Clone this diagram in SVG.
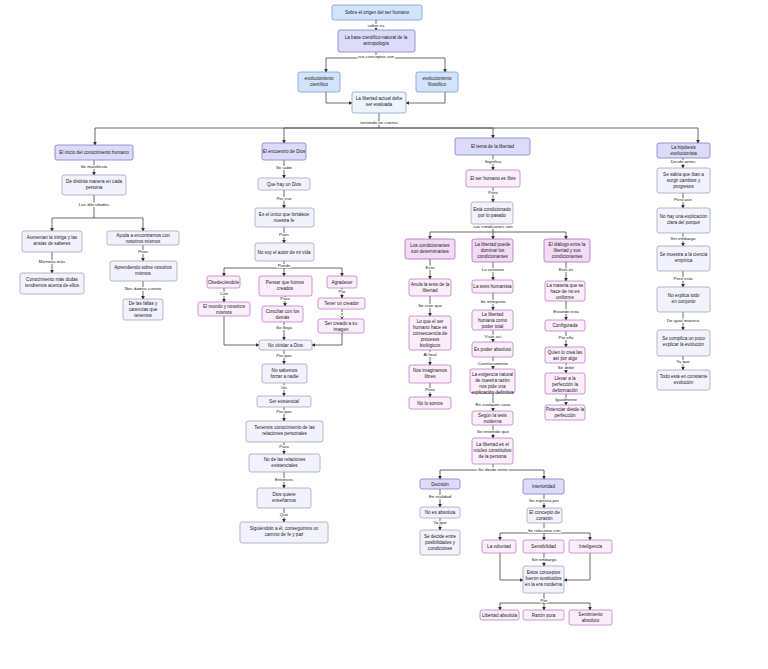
<svg xmlns="http://www.w3.org/2000/svg" width="768" height="669" viewBox="0 0 768 669">
<style>
rect{rx:2;stroke-width:0.8}
.top{fill:#d2e4fb;stroke:#7b9cc8}
.ev{fill:#eef4fd;stroke:#8ea4c4}
.main{fill:#dcdcfa;stroke:#7f7fc2}
.sub{fill:#f2f2fd;stroke:#a4a4bc}
.pk{fill:#fbeefb;stroke:#c27cc6}
.pk2{fill:#f3dbf7;stroke:#b06cc0}
text{font-family:"Liberation Sans",Arial,sans-serif;font-size:4.6px;fill:#222;text-anchor:middle}
.lb{font-size:4.4px;paint-order:stroke;stroke:#fff;stroke-width:2px}
#edges path{fill:none;stroke:#444;stroke-width:0.8;marker-end:url(#a)}
</style>
<defs><marker id="a" viewBox="0 0 6 6" refX="5" refY="3" markerWidth="5" markerHeight="5" orient="auto"><path d="M0,0L6,3L0,6z" fill="#333"/></marker></defs>
<rect width="768" height="669" fill="#fff" style="stroke:none"/>
<g id="edges">
<path d="M376,20V30"/><path d="M376,52V58H326V72"/><path d="M376,58H445V72"/>
<path d="M326,92V103H352"/><path d="M445,92V103H406"/>
<path d="M379,113V128H95V145"/><path d="M379,128H284V143"/><path d="M379,128H493V138"/><path d="M379,128H698V143"/>
<path d="M94,160V175"/><path d="M94,195V218H52V231"/><path d="M94,218H143V231"/>
<path d="M52,252V273"/><path d="M143,245V261"/><path d="M143,281V299"/>
<path d="M284,160V178"/><path d="M284,190V208"/><path d="M284,227V243"/><path d="M284,261V268H224V276"/><path d="M284,268V276"/><path d="M284,268H342V276"/>
<path d="M224,288V302"/><path d="M285,296V306"/><path d="M342,288V298"/><path d="M342,309V319"/>
<path d="M224,316V345H259"/><path d="M284,322V340"/><path d="M342,333V345H312"/>
<path d="M284,350V364"/><path d="M284,383V396"/><path d="M284,407V421"/><path d="M284,442V454"/><path d="M284,472V488"/><path d="M284,508V522"/>
<path d="M493,155V170"/><path d="M493,187V202"/><path d="M493,224V232H430V239"/><path d="M493,232V239"/><path d="M493,232H566V239"/>
<path d="M430,259V279"/><path d="M430,296V316"/><path d="M430,350V365"/><path d="M430,383V397"/>
<path d="M493,262V280"/><path d="M493,293V310"/><path d="M493,330V342"/><path d="M493,357V369"/><path d="M493,393V411"/><path d="M493,425V438"/>
<path d="M493,464V470H440V479"/><path d="M493,470H544V479"/>
<path d="M566,262V281"/><path d="M566,301V320"/><path d="M566,331V347"/><path d="M566,363V373"/><path d="M566,394V405"/>
<path d="M440,489V507"/><path d="M440,518V530"/>
<path d="M544,494V508"/><path d="M544,523V533H500V540"/><path d="M544,533V540"/><path d="M544,533H590V540"/>
<path d="M544,553V566"/><path d="M500,553V580H523"/><path d="M590,553V580H564"/>
<path d="M544,593V603H500V610"/><path d="M544,603V610"/><path d="M544,603H590V610"/>
<path d="M683,158V168"/><path d="M683,193V208"/><path d="M683,233V246"/><path d="M683,271V287"/><path d="M683,312V330"/><path d="M683,356V370"/>
</g>
<g id="labels">
<text class="lb" x="376" y="27">sobre es</text>
<text class="lb" x="376" y="58">sus conceptos son</text>
<text class="lb" x="379" y="124">teniendo en cuenta</text>
<text class="lb" x="94" y="168">Se manifiesta</text>
<text class="lb" x="94" y="206">Las dificultades</text>
<text class="lb" x="52" y="263">Mientras más</text>
<text class="lb" x="143" y="253">Pero</text>
<text class="lb" x="143" y="290">Nos damos cuenta</text>
<text class="lb" x="284" y="169">Se sabe</text>
<text class="lb" x="284" y="200">Por eso</text>
<text class="lb" x="284" y="236">Pues</text>
<text class="lb" x="284" y="267">Puede</text>
<text class="lb" x="224" y="295">Con</text>
<text class="lb" x="285" y="300">Para</text>
<text class="lb" x="342" y="293">Por</text>
<text class="lb" x="342" y="316">Y</text>
<text class="lb" x="284" y="329">Se llega</text>
<text class="lb" x="284" y="357">Por que</text>
<text class="lb" x="284" y="389">Un</text>
<text class="lb" x="284" y="413">Por que</text>
<text class="lb" x="284" y="448">Para</text>
<text class="lb" x="284" y="481">Entonces</text>
<text class="lb" x="284" y="516">Que</text>
<text class="lb" x="493" y="163">Significa</text>
<text class="lb" x="493" y="194">Pero</text>
<text class="lb" x="493" y="228">sus condiciones son</text>
<text class="lb" x="430" y="269">Esto</text>
<text class="lb" x="430" y="307">Se cree que</text>
<text class="lb" x="430" y="356">Al final</text>
<text class="lb" x="430" y="391">Pero</text>
<text class="lb" x="493" y="271">Lo sostiene</text>
<text class="lb" x="493" y="303">Se interpreta</text>
<text class="lb" x="493" y="338">Visto así</text>
<text class="lb" x="493" y="365">Contrariamente</text>
<text class="lb" x="493" y="406">En cualquier caso</text>
<text class="lb" x="493" y="433">Se entiende que</text>
<text class="lb" x="493" y="471">Se divide entre</text>
<text class="lb" x="566" y="271">Esto es</text>
<text class="lb" x="566" y="313">Estando esta</text>
<text class="lb" x="566" y="339">Por ello</text>
<text class="lb" x="566" y="369">Se debe</text>
<text class="lb" x="566" y="401">Igualmente</text>
<text class="lb" x="440" y="498">En realidad</text>
<text class="lb" x="440" y="524">Ya que</text>
<text class="lb" x="544" y="502">Se expresa por</text>
<text class="lb" x="544" y="532">Se relaciona con</text>
<text class="lb" x="544" y="561">Sin embargo</text>
<text class="lb" x="544" y="602">Por</text>
<text class="lb" x="683" y="163">Desde antes</text>
<text class="lb" x="683" y="201">Pero aún</text>
<text class="lb" x="683" y="240">Sin embargo</text>
<text class="lb" x="683" y="280">Pero esta</text>
<text class="lb" x="683" y="322">De igual manera</text>
<text class="lb" x="683" y="363">Ya que</text>
</g>
<g id="n1"><rect class="top" x="332" y="5" width="90" height="15"/><text x="377" y="14">Sobre el origen del ser humano</text></g>
<g id="n2"><rect class="main" x="338" y="30" width="77" height="22"/><text x="376" y="39">La base científico-natural de la</text><text x="376" y="45">antropología</text></g>
<g id="n3"><rect class="top" x="298" y="72" width="42" height="20"/><text x="319" y="80">evolucionismo</text><text x="319" y="86">científico</text></g>
<g id="n4"><rect class="top" x="416" y="72" width="42" height="20"/><text x="437" y="80">evolucionismo</text><text x="437" y="86">filosófico</text></g>
<g id="n5"><rect class="ev" x="352" y="92" width="54" height="21"/><text x="379" y="100">La libertad actual debe</text><text x="379" y="106">ser evaluada</text></g>
<g id="c1"><rect class="main" x="55" y="145" width="78" height="15"/><text x="94" y="154">El inicio del conocimiento humano</text></g>
<g id="c1a"><rect class="sub" x="62" y="175" width="64" height="20"/><text x="94" y="183">De distinta manera en cada</text><text x="94" y="189">persona</text></g>
<g id="c1b"><rect class="sub" x="22" y="231" width="60" height="21"/><text x="52" y="239">Aumentan la intriga y las</text><text x="52" y="245">ansias de saberes</text></g>
<g id="c1c"><rect class="sub" x="20" y="273" width="64" height="21"/><text x="52" y="281">Conocimiento más dudas</text><text x="52" y="287">tendremos acerca de ellos</text></g>
<g id="c1d"><rect class="sub" x="107" y="231" width="72" height="14"/><text x="143" y="237">Ayuda a encontrarnos con</text><text x="143" y="243">nosotros mismos</text></g>
<g id="c1e"><rect class="sub" x="110" y="261" width="67" height="20"/><text x="143" y="269">Aprendiendo sobre nosotros</text><text x="143" y="275">mismos</text></g>
<g id="c1f"><rect class="sub" x="123" y="299" width="40" height="21"/><text x="143" y="305">De las fallas y</text><text x="143" y="311">carencias que</text><text x="143" y="317">tenemos</text></g>
<g id="c2"><rect class="main" x="262" y="143" width="44" height="17"/><text x="284" y="153">El encuentro de Dios</text></g>
<g id="c2a"><rect class="sub" x="258" y="178" width="52" height="12"/><text x="284" y="185.5">Que hay un Dios</text></g>
<g id="c2b"><rect class="sub" x="255" y="208" width="59" height="19"/><text x="284" y="216">Es el único que fortalece</text><text x="284" y="222">nuestra fe</text></g>
<g id="c2c"><rect class="sub" x="255" y="243" width="59" height="18"/><text x="284" y="253.5">No soy el autor de mi vida</text></g>
<g id="c2d"><rect class="pk" x="207" y="276" width="33" height="12"/><text x="223.5" y="283.5">Obedeciéndole</text></g>
<g id="c2e"><rect class="pk" x="198" y="302" width="52" height="14"/><text x="224" y="308">El mundo y nosotros</text><text x="224" y="314">mismos</text></g>
<g id="c2f"><rect class="pk" x="259" y="276" width="53" height="20"/><text x="285" y="284">Pensar que fuimos</text><text x="285" y="290">creados</text></g>
<g id="c2g"><rect class="pk" x="262" y="306" width="41" height="16"/><text x="282.5" y="313">Conciliar con los</text><text x="282.5" y="319">demás</text></g>
<g id="c2h"><rect class="pk" x="327" y="276" width="30" height="12"/><text x="342" y="283.5">Agradecer</text></g>
<g id="c2i"><rect class="pk" x="318" y="298" width="47" height="11"/><text x="341.5" y="305">Tener un creador</text></g>
<g id="c2j"><rect class="pk" x="318" y="319" width="46" height="14"/><text x="341" y="325">Ser creado a su</text><text x="341" y="331">imagen</text></g>
<g id="c2k"><rect class="sub" x="259" y="340" width="53" height="10"/><text x="285.5" y="346.5">No olvidar a Dios</text></g>
<g id="c2l"><rect class="sub" x="262" y="364" width="45" height="19"/><text x="284.5" y="372">No sabemos</text><text x="284.5" y="378">forzar a nadie</text></g>
<g id="c2m"><rect class="sub" x="257" y="396" width="54" height="11"/><text x="284" y="403">Ser existencial</text></g>
<g id="c2n"><rect class="sub" x="246" y="421" width="77" height="21"/><text x="284.5" y="429">Tenemos conocimiento de las</text><text x="284.5" y="435">relaciones personales</text></g>
<g id="c2o"><rect class="sub" x="249" y="454" width="71" height="18"/><text x="284.5" y="461">No de las relaciones</text><text x="284.5" y="467">existenciales</text></g>
<g id="c2p"><rect class="sub" x="257" y="488" width="54" height="20"/><text x="284" y="496">Dios quiere</text><text x="284" y="502">enseñarnos</text></g>
<g id="c2q"><rect class="sub" x="240" y="522" width="88" height="21"/><text x="284" y="530">Siguiéndolo a él, conseguimos un</text><text x="284" y="536">camino de fe y paz</text></g>
<g id="c3"><rect class="main" x="455" y="138" width="75" height="17"/><text x="492.5" y="148">El tema de la libertad</text></g>
<g id="c3a"><rect class="pk" x="466" y="170" width="54" height="17"/><text x="493" y="180">El ser humano es libre</text></g>
<g id="c3b"><rect class="sub" x="471" y="202" width="42" height="22"/><text x="492" y="211">Está condicionado</text><text x="492" y="217">por lo pasado</text></g>
<g id="c3c"><rect class="pk2" x="405" y="239" width="50" height="20"/><text x="430" y="247">Los condicionantes</text><text x="430" y="253">son determinantes</text></g>
<g id="c3d"><rect class="pk" x="409" y="279" width="42" height="17"/><text x="430" y="286">Anula la tesis de la</text><text x="430" y="292">libertad</text></g>
<g id="c3e"><rect class="pk" x="409" y="316" width="42" height="34"/><text x="430" y="323">Lo que el ser</text><text x="430" y="329">humano hace es</text><text x="430" y="335">consecuencia de</text><text x="430" y="341">procesos</text><text x="430" y="347">biológicos</text></g>
<g id="c3f"><rect class="pk" x="409" y="365" width="42" height="18"/><text x="430" y="372">Nos imaginamos</text><text x="430" y="378">libres</text></g>
<g id="c3g"><rect class="pk" x="409" y="397" width="42" height="12"/><text x="430" y="404.5">No lo somos</text></g>
<g id="c3h"><rect class="pk2" x="472" y="239" width="41" height="23"/><text x="492.5" y="246">La libertad puede</text><text x="492.5" y="252">dominar los</text><text x="492.5" y="258">condicionantes</text></g>
<g id="c3i"><rect class="pk" x="472" y="280" width="41" height="13"/><text x="492.5" y="288">La tesis humanista</text></g>
<g id="c3j"><rect class="pk" x="472" y="310" width="41" height="20"/><text x="492.5" y="316">La libertad</text><text x="492.5" y="322">humana como</text><text x="492.5" y="328">poder total</text></g>
<g id="c3k"><rect class="pk" x="472" y="342" width="41" height="15"/><text x="492.5" y="351">Es poder absoluto</text></g>
<g id="c3l"><rect class="pk" x="470" y="369" width="45" height="24"/><text x="492.5" y="376">La exigencia natural</text><text x="492.5" y="382">de nuestra razón</text><text x="492.5" y="388">nos pide una</text><text x="492.5" y="394">explicación definitiva</text></g>
<g id="c3m"><rect class="pk" x="472" y="411" width="41" height="14"/><text x="492.5" y="417">Según la tesis</text><text x="492.5" y="423">moderna</text></g>
<g id="c3n"><rect class="pk" x="472" y="438" width="41" height="26"/><text x="492.5" y="446">La libertad es el</text><text x="492.5" y="452">núcleo constitutivo</text><text x="492.5" y="458">de la persona</text></g>
<g id="c3o"><rect class="pk2" x="544" y="239" width="46" height="23"/><text x="567" y="246">El diálogo entre la</text><text x="567" y="252">libertad y sus</text><text x="567" y="258">condicionantes</text></g>
<g id="c3p"><rect class="pk" x="545" y="281" width="40" height="20"/><text x="565" y="287">La materia que se</text><text x="565" y="293">hace de no es</text><text x="565" y="299">uniforme</text></g>
<g id="c3q"><rect class="pk" x="545" y="320" width="40" height="11"/><text x="565" y="327">Configurada</text></g>
<g id="c3r"><rect class="pk" x="545" y="347" width="40" height="16"/><text x="565" y="354">Quien lo crea las</text><text x="565" y="360">así por algo</text></g>
<g id="c3s"><rect class="pk" x="545" y="373" width="40" height="21"/><text x="565" y="380">Llevar a la</text><text x="565" y="386">perfección la</text><text x="565" y="392">deformación</text></g>
<g id="c3t"><rect class="pk" x="545" y="405" width="40" height="15"/><text x="565" y="411">Potenciar desde la</text><text x="565" y="417">perfección</text></g>
<g id="c3u"><rect class="main" x="420" y="479" width="40" height="10"/><text x="440" y="485.5">Decisión</text></g>
<g id="c3v"><rect class="sub" x="420" y="507" width="40" height="11"/><text x="440" y="514">No es absoluta</text></g>
<g id="c3w"><rect class="sub" x="420" y="530" width="40" height="25"/><text x="440" y="538">Se decide entre</text><text x="440" y="544">posibilidades y</text><text x="440" y="550">condiciones</text></g>
<g id="c3x"><rect class="main" x="523" y="479" width="41" height="15"/><text x="543.5" y="488">Interioridad</text></g>
<g id="c3y"><rect class="sub" x="527" y="508" width="35" height="15"/><text x="544.5" y="514">El concepto de</text><text x="544.5" y="520">corazón</text></g>
<g id="c3z"><rect class="pk" x="482" y="540" width="34" height="13"/><text x="499" y="548">La voluntad</text></g>
<g id="c3aa"><rect class="pk" x="523" y="540" width="41" height="13"/><text x="543.5" y="548">Sensibilidad</text></g>
<g id="c3ab"><rect class="pk" x="569" y="540" width="43" height="13"/><text x="590.5" y="548">Inteligencia</text></g>
<g id="c3ac"><rect class="sub" x="523" y="566" width="41" height="27"/><text x="543.5" y="574">Estos conceptos</text><text x="543.5" y="580">fueron sustituidos</text><text x="543.5" y="586">en la era moderna</text></g>
<g id="c3ad"><rect class="pk" x="480" y="610" width="39" height="10"/><text x="499.5" y="616.5">Libertad absoluta</text></g>
<g id="c3ae"><rect class="pk" x="523" y="610" width="41" height="10"/><text x="543.5" y="616.5">Razón pura</text></g>
<g id="c3af"><rect class="pk" x="569" y="610" width="43" height="15"/><text x="590.5" y="616">Sentimiento</text><text x="590.5" y="622">absoluto</text></g>
<g id="c4"><rect class="main" x="657" y="143" width="53" height="15"/><text x="683.5" y="149">La hipótesis</text><text x="683.5" y="155">evolucionista</text></g>
<g id="c4a"><rect class="sub" x="657" y="168" width="53" height="25"/><text x="683.5" y="176">Se sabía que iban a</text><text x="683.5" y="182">surgir cambios y</text><text x="683.5" y="188">progresos</text></g>
<g id="c4b"><rect class="sub" x="657" y="208" width="53" height="25"/><text x="683.5" y="218">No hay una explicación</text><text x="683.5" y="224">clara del porqué</text></g>
<g id="c4c"><rect class="sub" x="657" y="246" width="53" height="25"/><text x="683.5" y="256">Se muestra a la ciencia</text><text x="683.5" y="262">empírica</text></g>
<g id="c4d"><rect class="sub" x="657" y="287" width="53" height="25"/><text x="683.5" y="297">No explica todo</text><text x="683.5" y="303">en conjunto</text></g>
<g id="c4e"><rect class="sub" x="657" y="330" width="53" height="26"/><text x="683.5" y="340">Se complica un poco</text><text x="683.5" y="346">explicar la evolución</text></g>
<g id="c4f"><rect class="sub" x="657" y="370" width="53" height="20"/><text x="683.5" y="378">Todo está en constante</text><text x="683.5" y="384">evolución</text></g>
</svg>
